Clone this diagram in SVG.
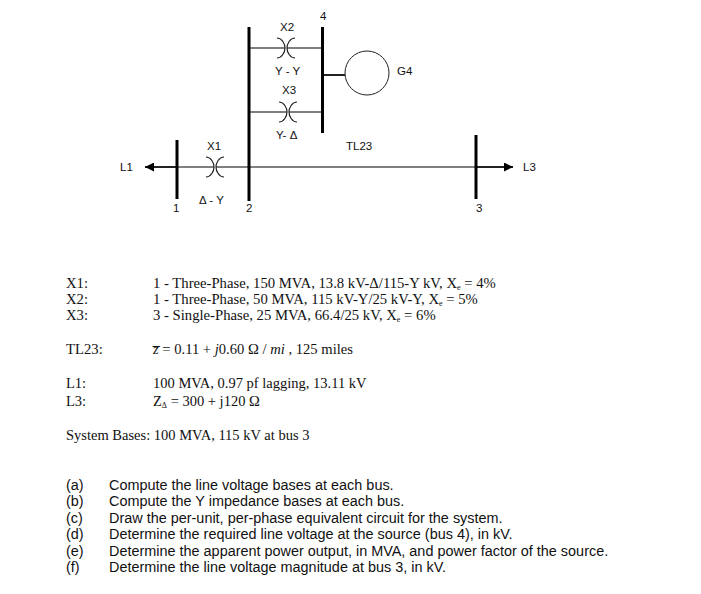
<svg xmlns="http://www.w3.org/2000/svg" width="701" height="594" viewBox="0 0 701 594">
<style>
.a{font-family:"Liberation Sans",Arial,sans-serif;font-size:11.5px;fill:#111}
.t{font-family:"Liberation Serif","Times New Roman",serif;font-size:14.7px;fill:#111}
.s{font-size:14.5px}
.q{font-family:"Liberation Sans",Arial,sans-serif;font-size:14.43px;fill:#111}
.bus{stroke:#000;stroke-width:3;fill:none}
.ln{stroke:#000;stroke-width:1.1;fill:none}
.thick{stroke:#222;stroke-width:2;fill:none}
.coil{stroke:#222;stroke-width:1.2;fill:none}
.sub{font-size:8px}
</style>
<defs>
<marker id="arr" markerUnits="userSpaceOnUse" markerWidth="10" markerHeight="9" refX="9" refY="4.5" orient="auto"><path d="M0 0L9 4.500L0 9Z" fill="#000"/></marker>
<g id="coil"><path class="coil" d="M-8-10C-3-10 0-4 0 0C0 4-3 10-8 10"/><path class="coil" d="M10-10C5-10 2-4 2 0C2 4 5 10 10 10"/></g>
</defs>
<g id="connectors">
<path class="ln" d="M249 48H285M287 48H322"/>
<path class="ln" d="M249 112H287M289 112H322"/>
<path class="thick" d="M323 75H345" stroke-width="1.5"/>
<path class="ln" d="M177 167H214M216 167H476"/>
<path class="thick" d="M177 167H145" marker-end="url(#arr)"/>
<path class="thick" d="M476 167H513" marker-end="url(#arr)"/>
</g>
<g id="bus1"><path class="bus" d="M177 140V199"/><text class="a" x="173" y="212">1</text></g>
<g id="bus2"><path class="bus" d="M249 27V201"/><text class="a" x="246" y="212">2</text></g>
<g id="bus3"><path class="bus" d="M476 135V199"/><text class="a" x="476" y="212">3</text></g>
<g id="bus4"><path class="bus" d="M322.500 27V133"/><text class="a" x="320" y="20">4</text></g>
<g id="G4"><circle cx="367" cy="73" r="22" fill="#fff" stroke="#222" stroke-width="1"/><text class="a" x="397" y="75">G4</text></g>
<g id="X2"><use href="#coil" x="285" y="48"/><text class="a" x="280" y="31">X2</text><text class="a" x="275" y="75">Y - Y</text></g>
<g id="X3"><use href="#coil" x="287" y="112"/><text class="a" x="282" y="94">X3</text><text class="a" x="276" y="139">Y- Δ</text></g>
<g id="X1"><use href="#coil" x="214" y="167"/><text class="a" x="207" y="150">X1</text><text class="a" x="199" y="204">Δ - Y</text></g>
<g id="TL23"><text class="a" x="346" y="150">TL23</text></g>
<g id="L1"><text class="a" x="120" y="171">L1</text></g>
<g id="L3"><text class="a" x="523" y="171">L3</text></g>
<g id="spec">
<text class="t" x="66" y="288">X1:</text><text class="t" x="153" y="288">1 - Three-Phase, 150 MVA, 13.8 kV-Δ/115-Y kV, X<tspan class="sub" dy="2">e</tspan><tspan dy="-2"> = 4%</tspan></text>
<text class="t" x="66" y="304">X2:</text><text class="t" x="153" y="304">1 - Three-Phase, 50 MVA, 115 kV-Y/25 kV-Y, X<tspan class="sub" dy="2">e</tspan><tspan dy="-2"> = 5%</tspan></text>
<text class="t" x="66" y="320">X3:</text><text class="t" x="153" y="320">3 - Single-Phase, 25 MVA, 66.4/25 kV, X<tspan class="sub" dy="2">e</tspan><tspan dy="-2"> = 6%</tspan></text>
<text class="t" x="66" y="354">TL23:</text><text class="t" x="153" y="354" style="font-size:14.6px"><tspan font-style="italic">z̅</tspan> = 0.11 + <tspan font-style="italic">j</tspan>0.60 Ω / <tspan font-style="italic">mi</tspan> , 125 miles</text>
<text class="t s" x="66" y="388">L1:</text><text class="t s" x="153" y="388">100 MVA, 0.97 pf lagging, 13.11 kV</text>
<text class="t s" x="66" y="406">L3:</text><text class="t s" x="153" y="406">Z<tspan class="sub" dy="2">Δ</tspan><tspan dy="-2"> = 300 + j120 Ω</tspan></text>
<text class="t s" x="66" y="440">System Bases: 100 MVA, 115 kV at bus 3</text>
</g>
<g id="questions">
<text class="q" x="66" y="490">(a)</text><text class="q" x="109" y="490">Compute the line voltage bases at each bus.</text>
<text class="q" x="66" y="506">(b)</text><text class="q" x="109" y="506">Compute the Y impedance bases at each bus.</text>
<text class="q" x="66" y="523">(c)</text><text class="q" x="109" y="523">Draw the per-unit, per-phase equivalent circuit for the system.</text>
<text class="q" x="66" y="539">(d)</text><text class="q" x="109" y="539">Determine the required line voltage at the source (bus 4), in kV.</text>
<text class="q" x="66" y="556">(e)</text><text class="q" x="109" y="556">Determine the apparent power output, in MVA, and power factor of the source.</text>
<text class="q" x="66" y="572">(f)</text><text class="q" x="109" y="572">Determine the line voltage magnitude at bus 3, in kV.</text>
</g>
</svg>
